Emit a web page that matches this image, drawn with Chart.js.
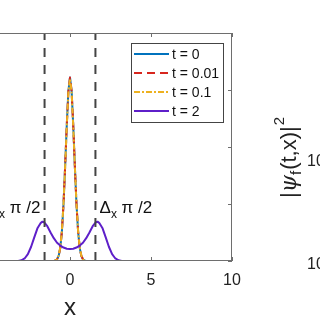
<!DOCTYPE html>
<html>
<head>
<meta charset="utf-8">
<script src="https://cdn.jsdelivr.net/npm/chart.js@4"></script>
<style>
  html, body { margin: 0; padding: 0; background: #fff; overflow: hidden; }
  #wrap { position: relative; width: 320px; height: 320px; overflow: hidden; }
  #plot { position: absolute; left: -160px; top: 0; }
</style>
</head>
<body>
<div id="wrap"><canvas id="plot" width="480" height="320"></canvas></div>
<script>
// narrow packet (t = 0, 0.01, 0.1) sampled around the centre
const xNarrow = [-10, -1.2, -1.0, -0.9, -0.8, -0.7, -0.6, -0.5, -0.4, -0.3, -0.2, -0.1, 0,
                 0.1, 0.2, 0.3, 0.4, 0.5, 0.6, 0.7, 0.8, 0.9, 1.0, 1.2, 10];
const yT0   = [0, 0, 0.001, 0.004, 0.015, 0.045, 0.115, 0.26, 0.50, 0.83, 1.19, 1.49, 1.61,
               1.49, 1.19, 0.83, 0.50, 0.26, 0.115, 0.045, 0.015, 0.004, 0.001, 0, 0];
const yT001 = [0, 0, 0.001, 0.004, 0.015, 0.045, 0.115, 0.26, 0.50, 0.83, 1.19, 1.49, 1.61,
               1.49, 1.19, 0.83, 0.50, 0.26, 0.115, 0.045, 0.015, 0.004, 0.001, 0, 0];
const yT01  = [0, 0, 0.001, 0.005, 0.016, 0.047, 0.118, 0.265, 0.50, 0.83, 1.18, 1.48, 1.60,
               1.48, 1.18, 0.83, 0.50, 0.265, 0.118, 0.047, 0.016, 0.005, 0.001, 0, 0];

// split packet at t = 2
const xWide = [-10, -3.4, -3.2, -3.0, -2.8, -2.6, -2.4, -2.2, -2.0, -1.8, -1.7, -1.6, -1.4, -1.2, -1.0,
               -0.8, -0.6, -0.4, -0.2, 0, 0.2, 0.4, 0.6, 0.8, 1.0, 1.2, 1.4, 1.6, 1.7, 1.8,
               2.0, 2.2, 2.4, 2.6, 2.8, 3.0, 3.2, 3.4, 10];
const yT2   = [0, 0, 0.001, 0.006, 0.022, 0.06, 0.125, 0.21, 0.29, 0.335, 0.345, 0.34, 0.305, 0.25, 0.2,
               0.16, 0.135, 0.118, 0.108, 0.105, 0.108, 0.118, 0.135, 0.16, 0.2, 0.25, 0.305, 0.34, 0.345, 0.335,
               0.29, 0.21, 0.125, 0.06, 0.022, 0.006, 0.001, 0, 0];

const seriesLabels = ['t = 0', 't = 0.01', 't = 0.1', 't = 2'];
const markerX = [-1.57, 1.57];      // Δx π/2 lines
const annotX = [-3.45, 3.45];
const annotY = 0.42;
const xTicks = [-10, -5, 0, 5, 10];
const yTicks = [0, 0.5, 1, 1.5, 2];

const pts = (xs, ys) => xs.map((v, i) => ({ x: v, y: ys[i] }));

Chart.defaults.font.family = '"Liberation Sans", Arial, sans-serif';
Chart.defaults.color = '#222';

function drawDelta(ctx, cx, by) {
  ctx.font = '17px "Liberation Sans", Arial, sans-serif';
  const w1 = ctx.measureText('\u0394').width;
  const w3 = ctx.measureText(' \u03c0 /2').width;
  ctx.font = '12px "Liberation Sans", Arial, sans-serif';
  const w2 = ctx.measureText('x').width;
  let x0 = cx - (w1 + w2 + w3) / 2;
  ctx.textAlign = 'left';
  ctx.textBaseline = 'alphabetic';
  ctx.fillStyle = '#111';
  ctx.font = '17px "Liberation Sans", Arial, sans-serif';
  ctx.fillText('\u0394', x0, by);
  ctx.font = '12px "Liberation Sans", Arial, sans-serif';
  ctx.fillText('x', x0 + w1, by + 5);
  ctx.font = '17px "Liberation Sans", Arial, sans-serif';
  ctx.fillText(' \u03c0 /2', x0 + w1 + w2, by);
}

const framePlugin = {
  id: 'frame',
  afterDatasetsDraw(chart) {
    const { ctx, chartArea: a, scales: { x, y } } = chart;
    ctx.save();
    // axes box with inward ticks
    ctx.strokeStyle = '#6e6e6e';
    ctx.lineWidth = 1;
    ctx.strokeRect(a.left + 0.5, a.top + 0.5, a.right - a.left - 1, a.bottom - a.top - 1);
    ctx.beginPath();
    xTicks.forEach(v => {
      const px = Math.round(x.getPixelForValue(v)) + 0.5;
      ctx.moveTo(px, a.bottom); ctx.lineTo(px, a.bottom - 4);
      ctx.moveTo(px, a.top); ctx.lineTo(px, a.top + 4);
    });
    yTicks.forEach(v => {
      const py = Math.round(y.getPixelForValue(v)) + 0.5;
      ctx.moveTo(a.left, py); ctx.lineTo(a.left + 4, py);
      ctx.moveTo(a.right, py); ctx.lineTo(a.right - 4, py);
    });
    ctx.stroke();

    // legend box (top right, inside axes)
    const lx = a.right - 101, ly = a.top + 9.5, lw = 92, lh = 79;
    ctx.fillStyle = '#fff';
    ctx.fillRect(lx, ly, lw, lh);
    ctx.strokeStyle = '#444';
    ctx.strokeRect(Math.round(lx) + 0.5, Math.round(ly) + 0.5, lw, lh);
    ctx.font = '14px "Liberation Sans", Arial, sans-serif';
    ctx.textAlign = 'left';
    ctx.textBaseline = 'middle';
    chart.data.datasets.slice(0, 4).forEach((ds, i) => {
      const ry = ly + 11.5 + i * 19;
      ctx.strokeStyle = ds.borderColor;
      ctx.lineWidth = 2;
      ctx.setLineDash(ds.borderDash || []);
      ctx.beginPath();
      ctx.moveTo(lx + 3, ry); ctx.lineTo(lx + 38, ry);
      ctx.stroke();
      ctx.setLineDash([]);
      ctx.fillStyle = '#111';
      ctx.fillText(ds.label, lx + 41, ry + 1);
    });

    // Δx π/2 annotations
    annotX.forEach(v => drawDelta(ctx, x.getPixelForValue(v), y.getPixelForValue(annotY)));

    // neighbouring panel (partly visible on the right)
    const off = 160;
    ctx.save();
    ctx.translate(off + 296, 198);
    ctx.rotate(-Math.PI / 2);
    ctx.textBaseline = 'alphabetic';
    ctx.textAlign = 'left';
    ctx.fillStyle = '#222';
    let cx = 0;
    const big = '22px "Liberation Sans", Arial, sans-serif';
    const psi = 'italic 22px "DejaVu Serif", serif';
    const small = '15px "Liberation Sans", Arial, sans-serif';
    ctx.font = big; ctx.fillText('|', cx, 0); cx += ctx.measureText('|').width;
    ctx.font = psi; ctx.fillText('\u03c8', cx, 0); cx += ctx.measureText('\u03c8').width;
    ctx.font = small; ctx.fillText('f', cx, 5); cx += ctx.measureText('f').width + 1;
    ctx.font = big; ctx.fillText('(t,x)|', cx, 0); cx += ctx.measureText('(t,x)|').width;
    ctx.font = small; ctx.fillText('2', cx + 1, -12);
    ctx.restore();

    ctx.font = '16px "Liberation Sans", Arial, sans-serif';
    ctx.textAlign = 'left';
    ctx.textBaseline = 'middle';
    ctx.fillStyle = '#222';
    ctx.fillText('10', off + 307, 162);
    ctx.fillText('10', off + 307, 265);
    ctx.restore();
  }
};

const lineBase = { pointRadius: 0, borderWidth: 2, tension: 0, fill: false, borderJoinStyle: 'round' };

new Chart(document.getElementById('plot').getContext('2d'), {
  type: 'line',
  data: {
    datasets: [
      { ...lineBase, label: seriesLabels[0], data: pts(xNarrow, yT0), borderColor: '#0072BD', order: 4 },
      { ...lineBase, label: seriesLabels[1], data: pts(xNarrow, yT001), borderColor: '#D7261E', borderDash: [8, 5], order: 3 },
      { ...lineBase, label: seriesLabels[2], data: pts(xNarrow, yT01), borderColor: '#EDB120', borderDash: [6, 2, 2, 2], order: 2 },
      { ...lineBase, label: seriesLabels[3], data: pts(xWide, yT2), borderColor: '#5E1FC9', order: 1 },
      { ...lineBase, label: 'marker', data: [{ x: markerX[0], y: 0 }, { x: markerX[0], y: 2 }], borderColor: '#444', borderDash: [9, 8], order: 0 },
      { ...lineBase, label: 'marker', data: [{ x: markerX[1], y: 0 }, { x: markerX[1], y: 2 }], borderColor: '#444', borderDash: [9, 8], order: 0 }
    ]
  },
  options: {
    responsive: false,
    animation: false,
    layout: { padding: { top: 33, right: 88, bottom: 0, left: 0 } },
    plugins: { legend: { display: false }, tooltip: { enabled: false } },
    scales: {
      x: {
        type: 'linear', min: -10, max: 10,
        grid: { display: false, drawTicks: false },
        border: { display: false },
        ticks: { stepSize: 5, padding: 10, maxRotation: 0, font: { size: 16 }, color: '#222' },
        title: { display: true, text: 'x', font: { size: 24, lineHeight: 1 }, padding: 0, color: '#222' },
        afterFit: s => { s.height = 59; }
      },
      y: {
        min: 0, max: 2,
        grid: { display: false, drawTicks: false },
        border: { display: false },
        ticks: { stepSize: 0.5, font: { size: 16 } },
        afterFit: s => { s.width = 68; }
      }
    }
  },
  plugins: [framePlugin]
});
</script>
</body>
</html>
